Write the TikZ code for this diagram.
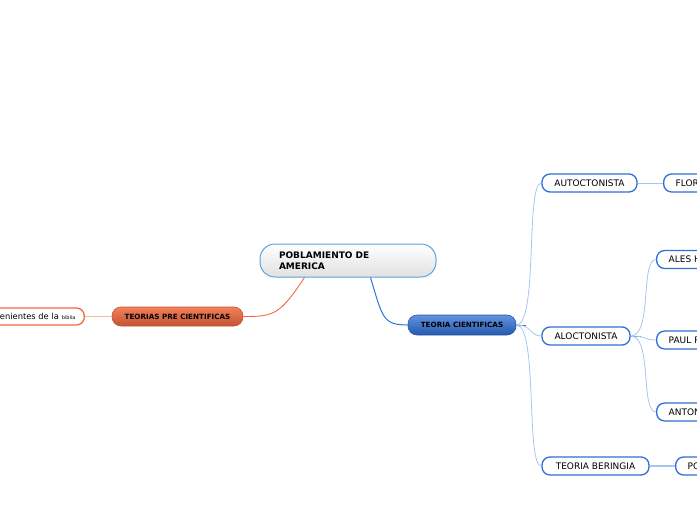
\documentclass[tikz,border=0pt]{standalone}
\usepackage{fontspec}
\setmainfont{DejaVu Sans}
\usetikzlibrary{calc}

\definecolor{nodeblue}{HTML}{2F6FD6}
\definecolor{lineblue}{HTML}{A6C6F0}
\definecolor{rootline}{HTML}{5AA3DE}
\definecolor{blueline}{HTML}{2E74D8}
\definecolor{orangeline}{HTML}{F2693F}
\definecolor{paleorange}{HTML}{F7B8A0}

\tikzset{
  root/.style={draw=rootline, line width=1pt, rounded corners=15pt,
    top color=white, bottom color=black!12, minimum height=33pt,
    text width=138pt, inner xsep=19pt, inner ysep=0pt, align=left,
    font=\bfseries\fontsize{9}{11}\selectfont},
  mainpre/.style={draw=orangeline!80!black, line width=.6pt, rounded corners=9pt,
    top color=orangeline!85, bottom color=orangeline!80!black,
    minimum height=19pt, minimum width=131pt, inner sep=0pt,
    font=\bfseries\fontsize{7.2}{8}\selectfont},
  mainsci/.style={draw=nodeblue!80!black, line width=.6pt, rounded corners=9pt,
    top color=nodeblue!75, bottom color=nodeblue!80!black,
    minimum height=20pt, minimum width=108pt, inner sep=0pt,
    font=\bfseries\fontsize{7.2}{8}\selectfont},
  sub/.style={draw=nodeblue, line width=1.3pt, rounded corners=8pt, fill=white,
    minimum height=18pt, inner sep=0pt, font=\fontsize{9}{10}\selectfont},
  subpre/.style={sub, draw=orangeline},
  cut/.style={text width=60pt, inner xsep=12pt, align=left},
  link/.style={lineblue, line width=.8pt},
}

\begin{document}
\begin{tikzpicture}[x=1pt, y=1pt]
    \useasboundingbox (0, 0) rectangle (697, -520);
    \clip (0, 0) rectangle (697, -520);

    % centre and main branches
    \node[root] (poblamiento) at (348, -260.5) {POBLAMIENTO DE\\AMERICA};
    \node[mainpre] (precientificas) at (177.5, -316.5) {TEORIAS PRE CIENTIFICAS};
    \node[mainsci] (cientificas) at (462, -325) {TEORIA CIENTIFICAS};

    % left side
    \node[subpre, text width=120pt, inner xsep=9pt, align=right, minimum height=17pt, anchor=east, font=\fontsize{8.3}{10}\selectfont] (biblia) at (85, -316.5) {enientes de la {\fontsize{5}{6}\selectfont biblia}};

    % right side
    \node[sub, minimum width=95pt] (autoctonista) at (589.5, -183) {AUTOCTONISTA};
    \node[sub, minimum width=88pt] (aloctonista) at (586, -336) {ALOCTONISTA};
    \node[sub, minimum width=107pt] (beringia) at (595.5, -466) {TEORIA BERINGIA};
    \node[sub, cut, anchor=west] (flor) at (663, -183) {FLOR};
    \node[sub, cut, anchor=west] (ales) at (656, -259.5) {ALES H};
    \node[sub, cut, anchor=west] (paul) at (656, -340) {PAUL R};
    \node[sub, cut, anchor=west] (anton) at (656, -412) {ANTON};
    \node[sub, cut, anchor=west] (po) at (675, -466) {PO};

    % connectors
    \draw[orangeline, line width=.9pt] ($(poblamiento.south west)+(45, 0)$) .. controls +(-25, -38) and +(30, 0) .. (precientificas.east);
    \draw[blueline, line width=1pt] ($(poblamiento.south west)+(111, 0)$) .. controls +(12, -40) and +(-25, 0) .. (cientificas.west);
    \draw[paleorange, line width=1.2pt] (biblia) -- (precientificas);
    \draw[blueline, line width=1pt] (cientificas.east) -- ++(10, 0);
    \draw[link] (cientificas.east) .. controls +(22, 0) and +(-16, 0) .. (autoctonista.west);
    \draw[link] (cientificas.east) .. controls +(16, 0) and +(-12, 0) .. (aloctonista.west);
    \draw[link] (cientificas.east) .. controls +(22, 0) and +(-16, 0) .. (beringia.west);
    \draw[link] (autoctonista) -- (flor);
    \draw[blueline, line width=1pt] (aloctonista.east) -- ++(10, 0);
    \draw[link] (aloctonista.east) .. controls +(22, 0) and +(-16, 0) .. (ales.west);
    \draw[link] (aloctonista.east) .. controls +(16, 0) and +(-12, 0) .. (paul.west);
    \draw[link] (aloctonista.east) .. controls +(22, 0) and +(-16, 0) .. (anton.west);
    \draw[lineblue, line width=1.8pt] (beringia) -- (po);
\end{tikzpicture}
\end{document}
